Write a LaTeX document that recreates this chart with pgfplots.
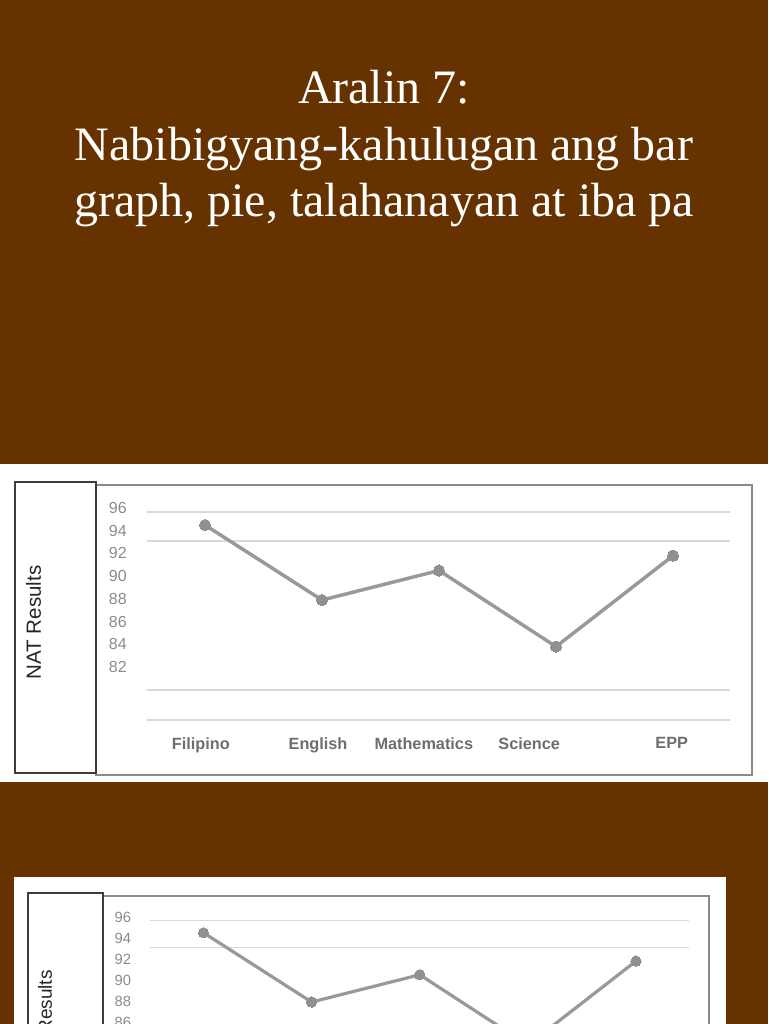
\documentclass[border=0pt]{standalone}
\usepackage{pgfplots}
\usepackage{pgfplotstable}
\pgfplotsset{compat=1.18}
\usepackage{fontspec}
\setmainfont{Liberation Serif}
\newfontfamily\arial{Liberation Sans}

\definecolor{slidebrown}{HTML}{663300}
\definecolor{linegray}{HTML}{999999}
\definecolor{markgray}{HTML}{909090}
\definecolor{gridgray}{HTML}{D9D9D9}
\definecolor{boxgray}{HTML}{8A8A8A}
\definecolor{labelbox}{HTML}{3C3C3C}
\definecolor{ticktext}{HTML}{8C8C8C}
\definecolor{cattext}{HTML}{6E6E6E}

% NAT results per subject
\pgfplotstableread{
x y
0 94.5
1 87.9
2 90.5
3 83.8
4 91.8
}\natdata

% #1 scale, #2 x offset (px), #3 y offset (px); layout in px of the first chart
\newcommand\natchart[3]{%
  \pgfmathsetmacro\chU{0.75*#1}%
  \pgfmathsetmacro\chAx{0.75*(#2+#1*147)}%
  \pgfmathsetmacro\chAy{-0.75*(#3+#1*720)}%
  \pgfmathsetmacro\chW{0.75*#1*583}%
  \pgfmathsetmacro\chH{0.75*#1*(96.5-77.34)*11.36}%
  \pgfmathsetmacro\chLw{1.5*#1}%
  \pgfmathsetmacro\chGw{1.1*#1}%
  \pgfmathsetmacro\chPw{2.6*#1}%
  \pgfmathsetmacro\chMs{4.2*#1}%
  \pgfmathsetmacro\chFy{12*#1}%
  \pgfmathsetmacro\chFx{12.2*#1}%
  \pgfmathsetmacro\chFl{15.4*#1}%
  \pgfmathsetmacro\chSx{15*#1}%
  \pgfmathsetmacro\chSy{12.75*#1}%
  \pgfmathsetmacro\chX{0.75*#2}%
  \pgfmathsetmacro\chY{-0.75*#3}%
  \begin{scope}[shift={(\chX pt,\chY pt)}, x=\chU pt, y=-\chU pt]
    \draw[boxgray, line width=\chLw pt, fill=white] (96,485) rectangle (752,775);
    \draw[labelbox, line width=\chLw pt, fill=white] (14.7,482) rectangle (96,773);
    \node[rotate=90, text=black!85, font=\arial\fontsize{\chFl pt}{\chFl pt}\selectfont]
      at (33.5,622.5) {NAT Results};
  \end{scope}
  \begin{axis}[
    at={(\chAx pt,\chAy pt)}, anchor=south west,
    scale only axis, width=\chW pt, height=\chH pt,
    xmin=-0.4957, xmax=4.487, ymin=77.34, ymax=96.5,
    axis line style={draw=none},
    major tick length=0pt,
    ytick={82,84,...,96},
    extra y ticks={77.34,79.98,93.09,95.67},
    extra y tick labels={},
    extra y tick style={grid=major},
    major grid style={gridgray, line width=\chGw pt},
    xtick={-0.036,0.966,1.870,2.771,3.989},
    xticklabels={Filipino,English,Mathematics,Science,EPP},
    /pgf/number format/assume math mode=true,
    yticklabel style={font=\arial\fontsize{\chFy pt}{\chFy pt}\selectfont,
      text=ticktext, anchor=east, inner sep=0pt, xshift=-\chSx pt},
    xticklabel style={font=\arial\bfseries\fontsize{\chFx pt}{\chFx pt}\selectfont,
      text=cattext, anchor=north, inner sep=0pt, yshift=-\chSy pt},
    clip=false
  ]
    \addplot[linegray, line width=\chPw pt, mark=*, mark size=\chMs pt,
      mark options={fill=markgray, draw=markgray, line width=0pt}] table {\natdata};
  \end{axis}%
}

\begin{document}
\begin{tikzpicture}
\useasboundingbox (0pt,-768pt) rectangle (576pt,0pt);
\clip (0pt,-768pt) rectangle (576pt,0pt);
\fill[slidebrown] (0pt,-768pt) rectangle (576pt,0pt);

\begin{scope}[font=\fontsize{36pt}{42.5pt}\selectfont, text=white]
  \node[anchor=base] at (288pt,-77.5pt) {Aralin 7:};
  \node[anchor=base] at (288pt,-120pt) {Nabibigyang-kahulugan ang bar};
  \node[anchor=base] at (288pt,-162.5pt) {graph, pie, talahanayan at iba pa};
\end{scope}

\fill[white] (0pt,-348pt) rectangle (576pt,-586.5pt);
\natchart{1}{0}{0}

\fill[white] (10.5pt,-657.5pt) rectangle (544.5pt,-800pt);
\natchart{0.924}{14.1}{447.6}
\end{tikzpicture}
\end{document}
